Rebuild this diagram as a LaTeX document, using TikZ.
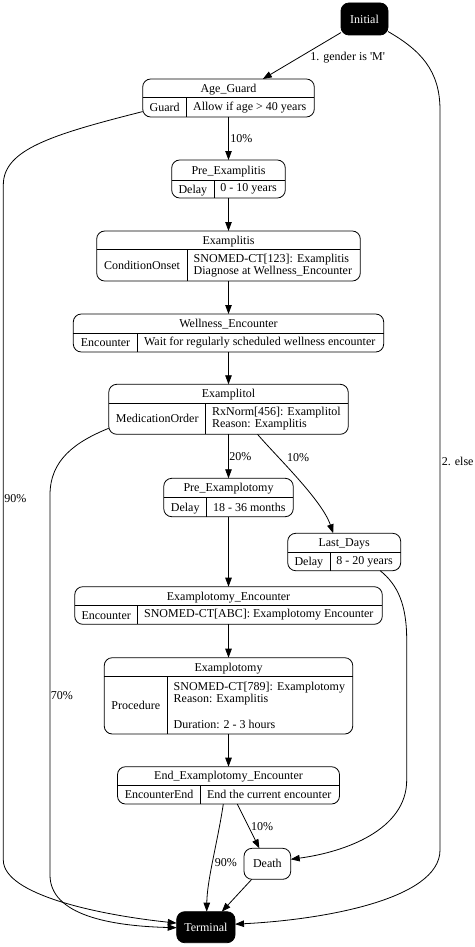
\documentclass[tikz,border=0pt]{standalone}
\usepackage{fontspec}
\setmainfont{Liberation Serif}
\usetikzlibrary{arrows.meta,calc}
\tikzset{
  rec/.style={draw, rounded corners=8pt, inner sep=0pt, outer sep=0pt},
  blk/.style={draw, fill=black, text=white, rounded corners=8pt, inner sep=0pt, outer sep=0pt},
  hdr/.style={inner sep=0pt, text height=9pt, text depth=1pt},
  vall/.style={inner sep=0pt, anchor=west, align=left},
  lbl/.style={inner sep=0pt, text height=9pt, text depth=1pt},
  conn/.style={-{Triangle[length=9pt,width=6.5pt]}}
}
\newcommand\recbox[7]{%
  \node[rec, minimum width={#4pt-#2pt}, minimum height={#5pt-#3pt}] (#1) at ({(#2+#4)/2},{(#3+#5)/2}) {};
  \draw (#2,#6) -- (#4,#6);
  \draw (#7,#6) -- (#7,#5);
  \coordinate (#1-h) at ({(#2+#4)/2},{(#3+#6)/2});
  \coordinate (#1-k) at ({(#2+#7)/2},{(#6+#5)/2});
  \coordinate (#1-v) at ({#7+6},{(#6+#5)/2});
}
\newcommand\rectext[4]{%
  \node[hdr] (#1-title) at (#1-h) {#2};
  \node[hdr] (#1-key) at (#1-k) {#3};
  \node[vall] (#1-val) at (#1-v) {#4};
}
\begin{document}
\begin{tikzpicture}[x=1pt,y=-1pt,line width=0.8pt,font=\fontsize{12}{12}\selectfont]
\useasboundingbox (0,0) rectangle (474,947);
\fill[white] (0,0) rectangle (474,947);

\node[blk, minimum width=47pt, minimum height=32pt] (init) at (364.5,19) {Initial};

\recbox{ag}{142.7}{79}{314.3}{117}{97.7}{186.7}
\rectext{ag}{Age\_Guard}{Guard}{Allow if age > 40 years}
\recbox{pe}{171.7}{160}{285.3}{198}{180}{214}
\rectext{pe}{Pre\_Examplitis}{Delay}{0 - 10 years}
\recbox{ex}{96.7}{231}{360.3}{281}{249.3}{187.3}
\rectext{ex}{Examplitis}{ConditionOnset}{SNOMED-CT[123]: Examplitis\\Diagnose at Wellness\_Encounter}
\recbox{we}{73.3}{314}{383.7}{352}{333}{137.7}
\rectext{we}{Wellness\_Encounter}{Encounter}{Wait for regularly scheduled wellness encounter}
\recbox{el}{108.75}{384.3}{348.25}{434.3}{403.3}{205.7}
\rectext{el}{Examplitol}{MedicationOrder}{RxNorm[456]: Examplitol\\Reason: Examplitis}
\recbox{pt}{163.75}{478.3}{293.25}{516.7}{497.3}{206.7}
\rectext{pt}{Pre\_Examplotomy}{Delay}{18 - 36 months}
\recbox{ld}{287.7}{533.3}{400.7}{570.7}{552.3}{330}
\rectext{ld}{Last\_Days}{Delay}{8 - 20 years}
\recbox{tn}{74.75}{586.7}{382.25}{624.3}{605.7}{137.7}
\rectext{tn}{Examplotomy\_Encounter}{Encounter}{SNOMED-CT[ABC]: Examplotomy Encounter}
\recbox{to}{104.25}{657.7}{352.75}{734}{676.7}{167.3}
\rectext{to}{Examplotomy}{Procedure}{SNOMED-CT[789]: Examplotomy\\Reason: Examplitis\\[14pt]Duration: 2 - 3 hours}
\recbox{ee}{117.5}{766.7}{339.5}{804}{785}{200.7}
\rectext{ee}{End\_Examplotomy\_Encounter}{EncounterEnd}{End the current encounter}

\node[rec, minimum width=46.7pt, minimum height=31pt] (death) at (267.35,863.8) {Death};
\node[blk, minimum width=58.3pt, minimum height=31pt] (term) at (205.85,927.2) {Terminal};

% edges
\draw[conn] (init.210.8) -- (ag.29.8);
\node[lbl, anchor=west] (l1) at (310,57) {1. gender is \textquotesingle M\textquotesingle};

\draw[conn] (init.332) .. controls (420,50) and (440,70) .. (440,110) -- (440,850) .. controls (440,900) and (320,920) .. (term.6);
\node[lbl, anchor=west] (l2) at (441.5,461) {2. else};

\draw[conn] (ag.189.8) .. controls (50,135) and (3.3,150) .. (3.3,185) -- (3.3,860) .. controls (3.3,895) and (100,915) .. (term.172);
\node[lbl, anchor=west] (l3) at (4,498) {90\%};

\draw[conn] (el.189.8) .. controls (75,442) and (50,460) .. (50,495) -- (50,875) .. controls (50,915) and (110,926) .. (term.181);
\node[lbl, anchor=west] (l4) at (50.5,695) {70\%};

\draw[conn] (ag.south) -- (pe.north) node[lbl, midway, anchor=west, xshift=1.5pt] (l5) {10\%};
\draw[conn] (pe.south) -- (ex.north);
\draw[conn] (ex.south) -- (we.north);
\draw[conn] (we.south) -- (el.north);
\draw[conn] (el.south) -- (pt.north) node[lbl, midway, anchor=west, xshift=0.5pt] (l6) {20\%};
\draw[conn] ($(el.south)+(29,0)$) .. controls (276,456) and (322,500) .. ($(ld.north)+(-11,0)$);
\node[lbl] (l7) at (298,457) {10\%};
\draw[conn] (pt.south) -- (tn.north);
\draw[conn] (tn.south) -- (to.north);
\draw[conn] (to.south) -- (ee.north);

\draw[conn] ($(ld.south)+(36,0)$) .. controls (398,585) and (406.7,605) .. (406.7,640) -- (406.7,780) .. controls (406.7,830) and (345,852) .. ($(death.east)+(0,-4.5)$);

\draw[conn] ($(ee.south)+(-5.2,0)$) .. controls (218,840) and (207,880) .. ($(term.north)+(0.85,0)$);
\node[lbl, anchor=west] (l8) at (214.5,862.7) {90\%};
\draw[conn] ($(ee.south)+(8.8,0)$) -- ($(death.north)+(-8,0)$);
\node[lbl] (l9) at (262,826) {10\%};
\draw[conn] ($(death.south)+(-15.6,0)$) -- ($(term.north)+(15.9,0)$);
\end{tikzpicture}
\end{document}
